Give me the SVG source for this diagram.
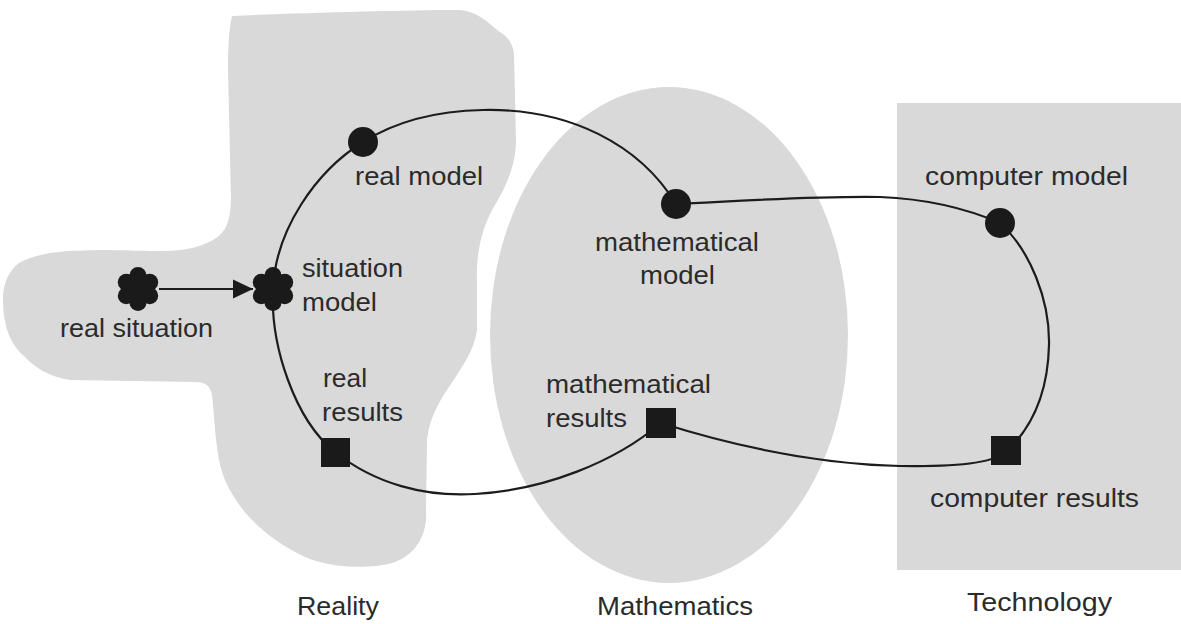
<svg xmlns="http://www.w3.org/2000/svg" xmlns:xlink="http://www.w3.org/1999/xlink" width="1181" height="624" viewBox="0 0 1181 624">
<style>
.region{fill:#d9d9d9;stroke:none}
.lbl{font-family:"Liberation Sans",Arial,sans-serif;font-size:26px;fill:#2b2b2b}
.conn{fill:none;stroke:#1c1c1c;stroke-width:2.2}
.node{fill:#1a1a1a}
</style>
<defs>
<marker id="arrow" markerUnits="userSpaceOnUse" markerWidth="20" markerHeight="20" viewBox="0 0 18 18" refX="18" refY="9" orient="auto">
<path d="M0,0.5 L18,9 L0,17.5 Z" fill="#1a1a1a"/>
</marker>
<g id="flower">
<circle r="13"/>
<circle cx="0" cy="-13.5" r="8.5"/>
<circle cx="11.7" cy="-6.75" r="8.5"/>
<circle cx="11.7" cy="6.75" r="8.5"/>
<circle cx="0" cy="13.5" r="8.5"/>
<circle cx="-11.7" cy="6.75" r="8.5"/>
<circle cx="-11.7" cy="-6.75" r="8.5"/>
</g>
</defs>
<rect width="1181" height="624" fill="#ffffff"/>
<g id="regions">
<path id="reality-region" class="region" d="M232,16 C300,13 400,10 460,10 C480,12 490,25 500,32 C508,37 514,45 514,55 L516,140 C516,160 510,180 495,205 C483,225 476,250 477,280 L477,330 C474,350 465,362 455,378 C440,400 430,415 427,440 L426,510 C428,535 415,555 395,562 C370,570 330,568 305,557 C270,540 240,515 225,480 C215,455 215,420 212,395 C210,385 205,382 195,382 L70,380 C50,377 35,368 25,357 C10,345 3,325 3,300 C3,280 12,265 25,260 C45,252 60,251 100,250 C150,250 180,255 207,243 C225,235 230,225 231,200 L228,70 C228,40 230,25 232,16 Z"/>
<ellipse id="mathematics-region" class="region" cx="669" cy="335" rx="179" ry="248"/>
<rect id="technology-region" class="region" x="897" y="103" width="284" height="467"/>
</g>
<g id="connectors">
<path class="conn" d="M676,204 C640,145 570,108 483,110 C430,111 390,125 363,142 C315,172 276,230 273,288 C270,346 295,420 335,452 C375,484 425,497 475,494 C545,490 615,462 661,423"/>
<path class="conn" d="M676,204 C740,201 810,196 880,197 C930,199 970,210 1000,223 C1030,250 1050,300 1049,345 C1048,390 1035,425 1006,452 C995,462 960,467 900,466 C820,464 740,448 661,423"/>
<line class="conn" x1="159" y1="289" x2="253" y2="289" marker-end="url(#arrow)"/>
</g>
<g id="real-situation">
<use xlink:href="#flower" href="#flower" x="138" y="289" class="node"/>
<text class="lbl" x="60" y="337" textLength="153" lengthAdjust="spacingAndGlyphs">real situation</text>
</g>
<g id="situation-model">
<use xlink:href="#flower" href="#flower" x="273" y="289" class="node"/>
<text class="lbl" x="302" y="277" textLength="101" lengthAdjust="spacingAndGlyphs">situation</text>
<text class="lbl" x="302" y="311" textLength="75" lengthAdjust="spacingAndGlyphs">model</text>
</g>
<g id="real-model">
<circle class="node" cx="363" cy="142" r="15"/>
<text class="lbl" x="355" y="185" textLength="128" lengthAdjust="spacingAndGlyphs">real model</text>
</g>
<g id="real-results">
<rect class="node" x="321" y="438" width="29" height="29"/>
<text class="lbl" x="323" y="387" textLength="44" lengthAdjust="spacingAndGlyphs">real</text>
<text class="lbl" x="322" y="421" textLength="81" lengthAdjust="spacingAndGlyphs">results</text>
</g>
<g id="mathematical-model">
<circle class="node" cx="676" cy="204" r="15"/>
<text class="lbl" x="595" y="251" textLength="164" lengthAdjust="spacingAndGlyphs">mathematical</text>
<text class="lbl" x="640" y="284" textLength="75" lengthAdjust="spacingAndGlyphs">model</text>
</g>
<g id="mathematical-results">
<rect class="node" x="646" y="408" width="30" height="30"/>
<text class="lbl" x="546" y="393" textLength="165" lengthAdjust="spacingAndGlyphs">mathematical</text>
<text class="lbl" x="546" y="427" textLength="81" lengthAdjust="spacingAndGlyphs">results</text>
</g>
<g id="computer-model">
<circle class="node" cx="1000" cy="223" r="15"/>
<text class="lbl" x="925" y="185" textLength="203" lengthAdjust="spacingAndGlyphs">computer model</text>
</g>
<g id="computer-results">
<rect class="node" x="991" y="436" width="30" height="29"/>
<text class="lbl" x="930" y="507" textLength="209" lengthAdjust="spacingAndGlyphs">computer results</text>
</g>
<g id="region-labels">
<text class="lbl" x="297" y="615" textLength="82" lengthAdjust="spacingAndGlyphs">Reality</text>
<text class="lbl" x="597" y="615" textLength="156" lengthAdjust="spacingAndGlyphs">Mathematics</text>
<text class="lbl" x="967" y="611" textLength="145" lengthAdjust="spacingAndGlyphs">Technology</text>
</g>
</svg>
